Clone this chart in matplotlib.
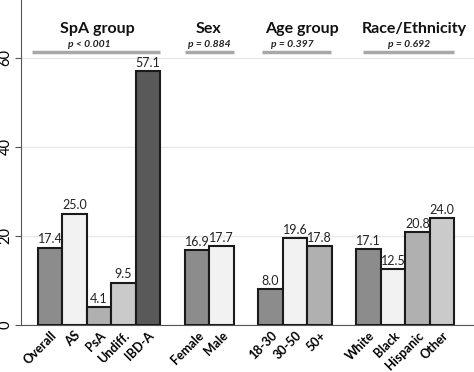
import matplotlib
matplotlib.use("Agg")
import matplotlib.pyplot as plt

plt.rcParams['font.family'] = ['Lato', 'DejaVu Sans']

categories = ["Overall", "AS", "PsA", "Undiff.", "IBD-A",
              "Female", "Male",
              "18-30", "30-50", "50+",
              "White", "Black", "Hispanic", "Other"]
values = [17.4, 25.0, 4.1, 9.5, 57.1,
          16.9, 17.7,
          8.0, 19.6, 17.8,
          17.1, 12.5, 20.8, 24.0]
positions = [0, 1, 2, 3, 4, 6, 7, 9, 10, 11, 13, 14, 15, 16]
colors = ["#8c8c8c", "#f2f2f2", "#b0b0b0", "#cacaca", "#595959",
          "#8c8c8c", "#f2f2f2",
          "#8c8c8c", "#f2f2f2", "#b0b0b0",
          "#8c8c8c", "#f2f2f2", "#b0b0b0", "#cacaca"]

group_titles = ["SpA group", "Sex", "Age group", "Race/Ethnicity"]
group_pvalues = ["p < 0.001", "p = 0.884", "p = 0.397", "p = 0.692"]
group_spans = [(-0.73, 4.49), (5.51, 7.51), (8.66, 11.47), (12.78, 16.49)]
title_x = [1.95, 6.45, 10.3, 14.85]
pval_x = [1.6, 6.5, 9.88, 14.65]

fig = plt.figure(figsize=(4.74, 3.72), dpi=100)
ax = fig.add_axes([21/474, 47/372, 1 - 21/474, 325/372])

ax.bar(positions, values, width=1.0, color=colors, edgecolor="#1a1a1a", linewidth=1.5, zorder=3)
for x, v in zip(positions, values):
    ax.text(x, v + 0.5, f"{v:.1f}", ha="center", va="bottom", fontsize=9, color="#222222", zorder=4)

ax.set_xlim(-1.18, 17.3)
ax.set_ylim(0, 73)
ax.set_yticks([0, 20, 40, 60])
ax.set_yticklabels(["0", "20", "40", "60"], rotation=90, va="center", fontsize=10.5)
ax.yaxis.grid(True, color="#e8e8e8", linewidth=1.0, zorder=0)
ax.set_xticks(positions)
ax.set_xticklabels(categories, rotation=45, ha="right", rotation_mode="anchor",
                   fontsize=9, fontweight="bold")
ax.tick_params(axis="x", length=0, pad=3)
ax.tick_params(axis="y", length=4, color="#555555", pad=2)
for s in ["top", "right"]:
    ax.spines[s].set_visible(False)
ax.spines["left"].set_color("#555555")
ax.spines["bottom"].set_color("#555555")

for title, p, (x0, x1), tx, px in zip(group_titles, group_pvalues, group_spans, title_x, pval_x):
    ax.text(tx, 66.4, title, ha="center", va="center", fontsize=11.5, fontweight="bold", color="#111111")
    ax.text(px, 63.0, p, ha="center", va="center", fontsize=7.5, fontweight="bold", style="italic", color="#222222")
    ax.plot([x0, x1], [61.3, 61.3], color="#a8a8a8", linewidth=2.5, solid_capstyle="butt", clip_on=False)

fig.savefig("out.png", dpi=100)
